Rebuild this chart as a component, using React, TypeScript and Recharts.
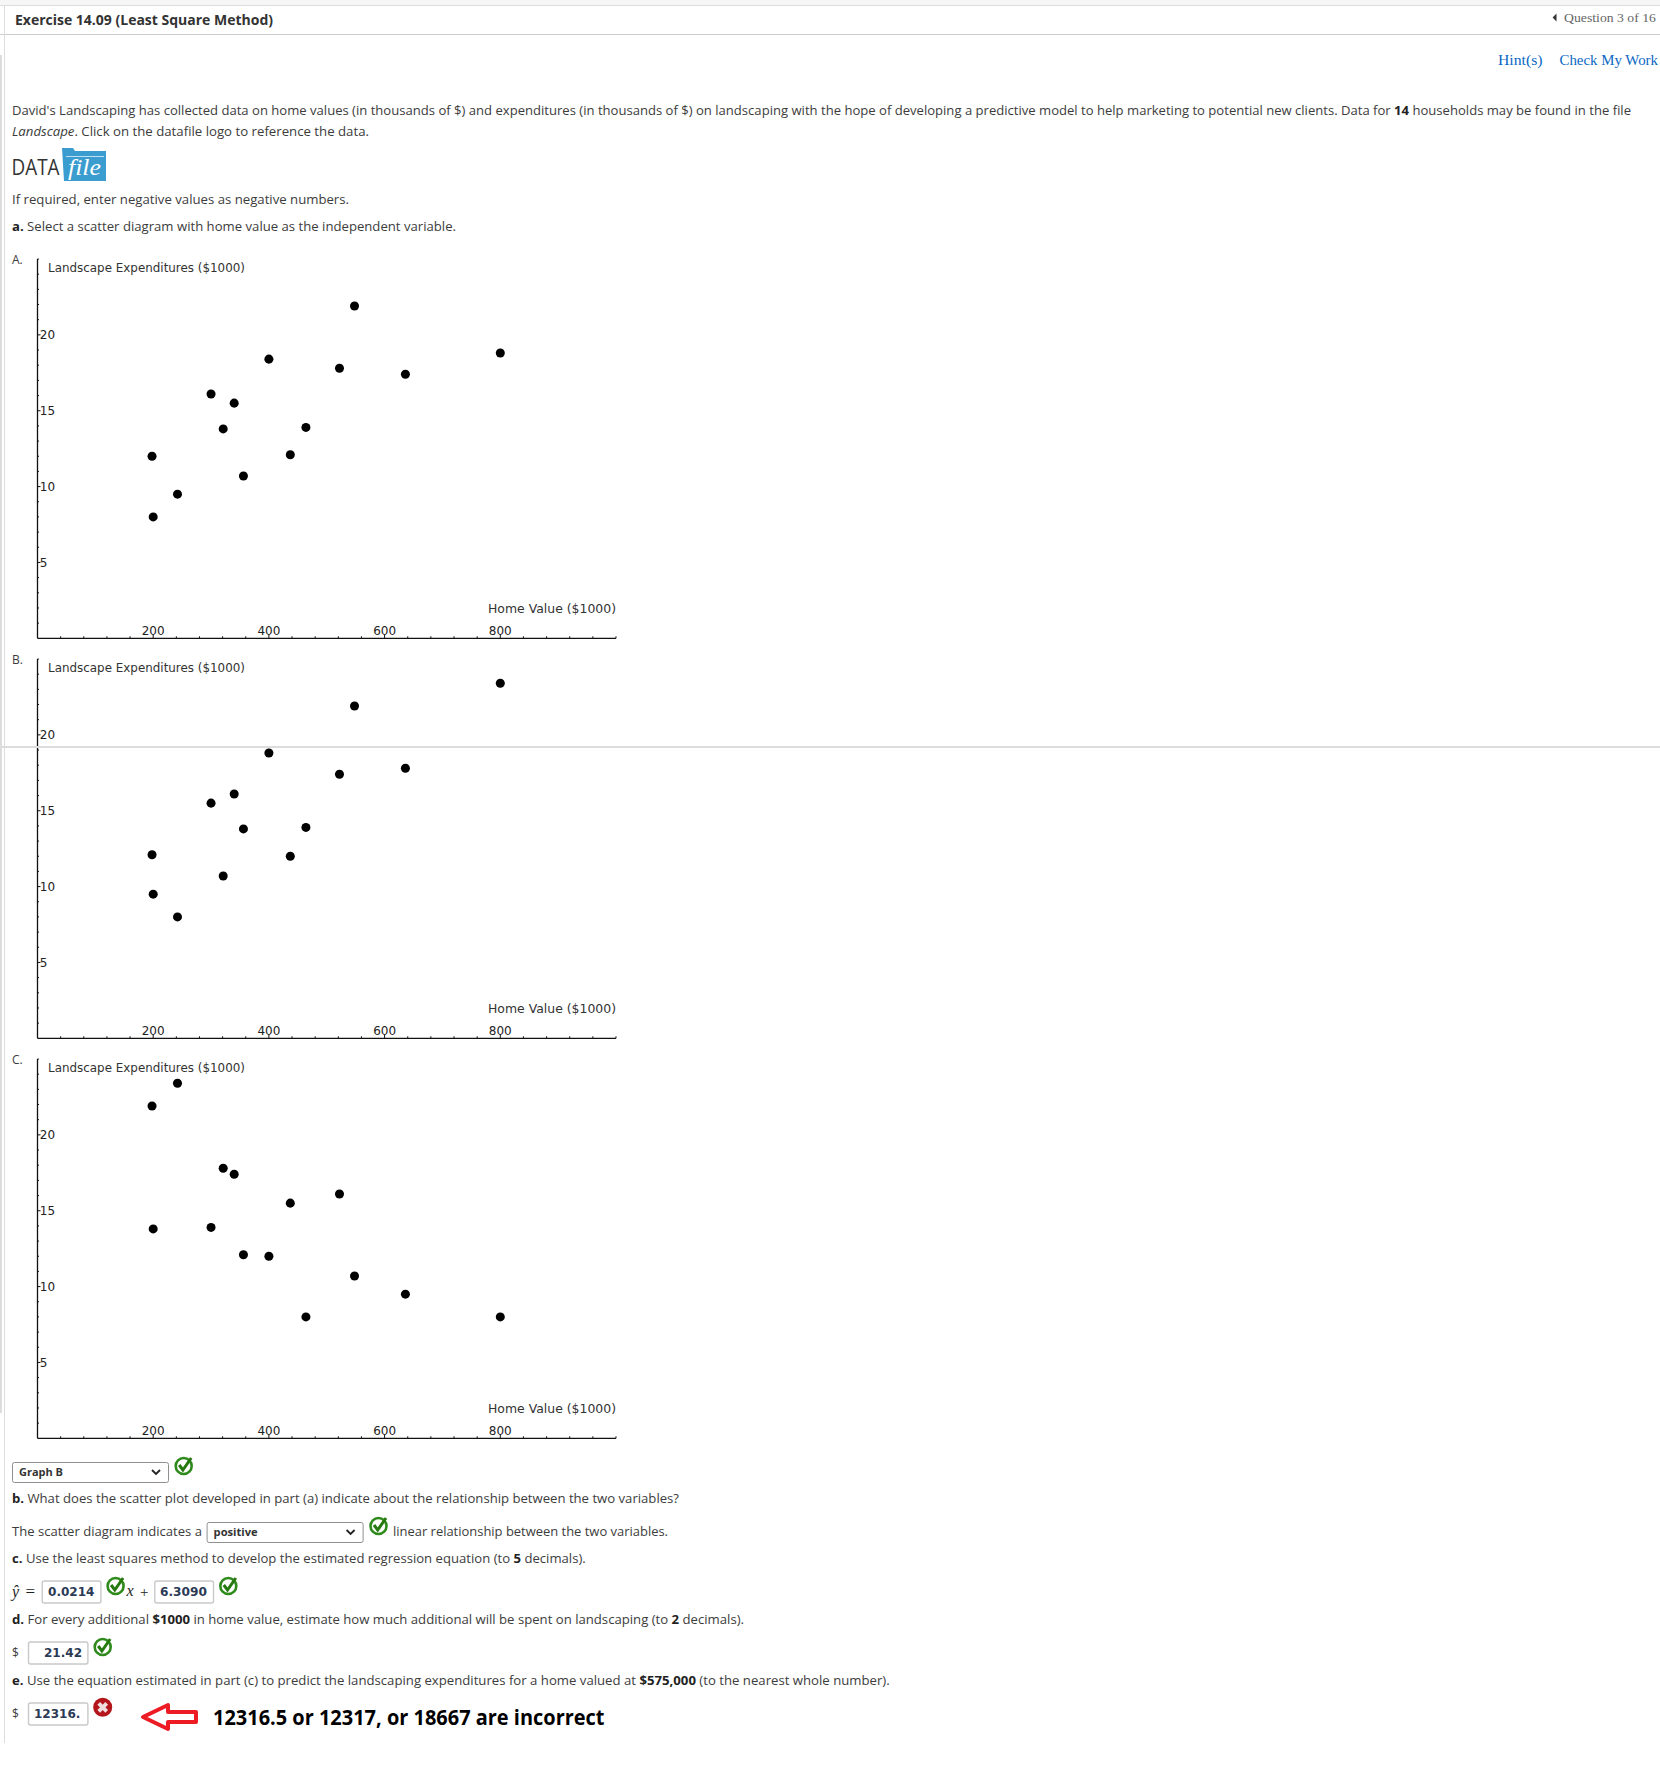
import React from 'react';
import { Scatter, ScatterChart, XAxis, YAxis, ZAxis } from 'recharts';

const homeValues = [198, 200, 242, 300, 321, 340, 356, 400, 437, 464, 522, 548, 636, 800];
const expendituresA = [12.0, 8.0, 9.5, 16.1, 13.8, 15.5, 10.7, 18.4, 12.1, 13.9, 17.8, 21.9, 17.4, 18.8];
const expendituresB = [12.1, 9.5, 8.0, 15.5, 10.7, 16.1, 13.8, 18.8, 12.0, 13.9, 17.4, 21.9, 17.8, 23.4];
const expendituresC = [21.9, 13.8, 23.4, 13.9, 17.8, 17.4, 12.1, 12.0, 15.5, 8.0, 16.1, 10.7, 9.5, 8.0];

const xTicks = [40, 80, 120, 160, 200, 240, 280, 320, 360, 400, 440, 480, 520, 560, 600, 640, 680, 720, 760, 800, 840, 880, 920, 960, 1000];
const yTicks = [1, 2, 3, 4, 5, 6, 7, 8, 9, 10, 11, 12, 13, 14, 15, 16, 17, 18, 19, 20, 21, 22, 23, 24, 25];
const xLabelled = [200, 400, 600, 800];
const yLabelled = [5, 10, 15, 20];

const sans = '"Open Sans", sans-serif';
const plot = 'DejaVu Sans, sans-serif';
const serif = '"Liberation Serif", serif';
const fieldFont = '"DejaVu Sans", sans-serif';

function XTick({ x, y, payload }: any) {
  const major = xLabelled.includes(payload.value);
  return (
    <g>
      <line x1={x} x2={x} y1={y} y2={y - (major ? 4 : 2)} stroke="#111" strokeWidth={1} />
      {major && (
        <text x={x} y={y - 7.5} textAnchor="middle" dominantBaseline="central" fontFamily={plot} fontSize={12} fill="#222">
          {payload.value}
        </text>
      )}
    </g>
  );
}

function YTick({ x, y, payload }: any) {
  const major = yLabelled.includes(payload.value);
  return (
    <g>
      <line x1={x} x2={x + (major ? 3 : 1.5)} y1={y} y2={y} stroke="#111" strokeWidth={1} />
      {major && (
        <text x={x + 2.3} y={y + 0.5} textAnchor="start" dominantBaseline="central" fontFamily={plot} fontSize={12} fill="#222">
          {payload.value}
        </text>
      )}
    </g>
  );
}

function Plot({ top, values }: { top: number; values: number[] }) {
  const rows = homeValues.map((home, i) => ({ home, spend: values[i] }));
  return (
    <div style={{ position: 'absolute', left: 0, top, width: 640, height: 400 }}>
      <ScatterChart width={640} height={400} margin={{ top: 9, left: 36.5, right: 24, bottom: 10.7 }}>
        <XAxis
          type="number"
          dataKey="home"
          domain={[0, 1000]}
          ticks={xTicks}
          interval={0}
          height={1}
          tickSize={0}
          tickMargin={0}
          tick={<XTick />}
          axisLine={{ stroke: '#111', strokeWidth: 1.3 }}
        />
        <YAxis
          type="number"
          dataKey="spend"
          domain={[0, 25]}
          ticks={yTicks}
          interval={0}
          width={1}
          tickSize={0}
          tickMargin={0}
          tick={<YTick />}
          axisLine={{ stroke: '#111', strokeWidth: 1.3 }}
        />
        <ZAxis range={[34, 34]} />
        <Scatter data={rows} fill="#000" isAnimationActive={false} />
        <text x={48} y={17.7} dominantBaseline="central" fontFamily={plot} fontSize={12} fill="#333" textLength={197} lengthAdjust="spacingAndGlyphs">
          Landscape Expenditures ($1000)
        </text>
        <text x={488} y={358.7} dominantBaseline="central" fontFamily={plot} fontSize={12} fill="#333" textLength={128} lengthAdjust="spacingAndGlyphs">
          Home Value ($1000)
        </text>
      </ScatterChart>
    </div>
  );
}

function T({ x, cy, w, size = 13, font = sans, weight, italic, color = '#3c3c3c', anchor, children }: any) {
  return (
    <text
      x={x}
      y={cy}
      dominantBaseline="central"
      fontFamily={font}
      fontSize={size}
      fontWeight={weight}
      fontStyle={italic ? 'italic' : undefined}
      fill={color}
      textAnchor={anchor}
      textLength={w}
      lengthAdjust={w ? 'spacingAndGlyphs' : undefined}
    >
      {children}
    </text>
  );
}

function Check({ cx, cy }: { cx: number; cy: number }) {
  return (
    <g>
      <circle cx={cx} cy={cy} r={8} fill="#fff" stroke="#2f8a1c" strokeWidth={2.6} />
      <path d={`M${cx - 4.5} ${cy - 1} L${cx - 0.8} ${cy + 4} L${cx + 7.5} ${cy - 8}`} fill="none" stroke="#25790f" strokeWidth={3} />
    </g>
  );
}

function Cross({ cx, cy }: { cx: number; cy: number }) {
  return (
    <g>
      <circle cx={cx} cy={cy} r={9.5} fill="#b3151b" />
      <path d={`M${cx - 4} ${cy - 4} L${cx + 4} ${cy + 4} M${cx + 4} ${cy - 4} L${cx - 4} ${cy + 4}`} stroke="#f0dede" strokeWidth={3.8} />
    </g>
  );
}

function Select({ x, y, w, h, label, labelW }: any) {
  const cx = x + w - 12;
  const cy = y + h / 2;
  return (
    <g>
      <rect x={x + 0.5} y={y + 0.5} width={w} height={h} rx={2} fill="#fff" stroke="#8f8f8f" />
      <T x={x + 7} cy={cy} w={labelW} size={10} weight={700} color="#333">{label}</T>
      <path d={`M${cx - 4} ${cy - 2} L${cx} ${cy + 2} L${cx + 4} ${cy - 2}`} fill="none" stroke="#222" strokeWidth={1.8} />
    </g>
  );
}

function Field({ x, y, w, tx, tw, children }: any) {
  return (
    <g>
      <rect x={x + 0.5} y={y + 1} width={w} height={22} rx={2} fill="#fff" stroke="#c9c9c9" strokeWidth={1.4} />
      <T x={tx} cy={y + 11.5} w={tw} size={12} font={fieldFont} weight={700} color="#2b3a55">{children}</T>
    </g>
  );
}

export default function App() {
  return (
    <div style={{ position: 'absolute', left: 0, top: 0, width: 1660, height: 1768, background: '#fff', overflow: 'hidden' }}>
      <svg width={1660} height={1768} style={{ position: 'absolute', left: 0, top: 0 }}>
        <rect x={0} y={0} width={1660} height={5} fill="#f6f6f6" />
        <rect x={0} y={5} width={1660} height={1} fill="#ddd" />
        <rect x={0} y={34} width={1660} height={1} fill="#ccc" />
        <rect x={4} y={5} width={1} height={1738} fill="#ddd" />
        <rect x={0} y={55} width={2} height={1358} fill="#ddd" />

        <T x={15} cy={19} w={258} size={14} weight={700} color="#333">Exercise 14.09 (Least Square Method)</T>
        <path d="M1552.6 17.5 L1556.5 13.5 L1556.5 21.5 Z" fill="#333" />
        <T x={1564} cy={17} w={92} size={13} font={serif} color="#666">Question 3 of 16</T>
        <T x={1498} cy={60} w={44.6} size={15} font={serif} color="#0b68c4">Hint(s)</T>
        <T x={1559.5} cy={60} w={98.5} size={15} font={serif} color="#0b68c4">Check My Work</T>

        <T x={12} cy={110} w={1619}>
          David's Landscaping has collected data on home values (in thousands of $) and expenditures (in thousands of $) on landscaping with the hope of developing a predictive model to help marketing to potential new clients. Data for <tspan fontWeight={700} fill="#222">14</tspan> households may be found in the file
        </T>
        <T x={12} cy={131} w={357}>
          <tspan fontStyle="italic">Landscape</tspan>. Click on the datafile logo to reference the data.
        </T>

        <T x={11.5} cy={166} w={48} size={22} color="#333">DATA</T>
        <path d="M62 148 L73 148 L75 151 L106 151 L106 181 L64 181 Z" fill="#3a9ccf" />
        <rect x={66} y={156} width={38} height={1} fill="#bfe0f2" />
        <T x={68} cy={167} w={33} size={23} font={serif} italic color="#fff">file</T>

        <T x={12} cy={199} w={337}>If required, enter negative values as negative numbers.</T>
        <T x={12} cy={226} w={444}><tspan fontWeight={700} fill="#222">a.</tspan> Select a scatter diagram with home value as the independent variable.</T>

        <T x={12} cy={259} size={12}>A.</T>
        <T x={12} cy={659} size={12}>B.</T>
        <T x={12} cy={1059} size={12}>C.</T>

        <Select x={12} y={1462} w={156} h={20} label="Graph B" labelW={44} />
        <Check cx={183.7} cy={1466} />
        <T x={12} cy={1498} w={667}><tspan fontWeight={700} fill="#222">b.</tspan> What does the scatter plot developed in part (a) indicate about the relationship between the two variables?</T>
        <T x={12} cy={1531} w={190}>The scatter diagram indicates a</T>
        <Select x={206.6} y={1522} w={156} h={20} label="positive" labelW={44} />
        <Check cx={378.5} cy={1526} />
        <T x={393} cy={1531} w={275}>linear relationship between the two variables.</T>
        <T x={12} cy={1558} w={573.7}><tspan fontWeight={700} fill="#222">c.</tspan> Use the least squares method to develop the estimated regression equation (to <tspan fontWeight={700} fill="#222">5</tspan> decimals).</T>

        <T x={12} cy={1591} size={16} font={serif} italic color="#222">ŷ</T>
        <T x={25.5} cy={1591} size={17} font={serif} color="#222">=</T>
        <Field x={41.7} y={1580} w={58.7} tx={48} tw={46.5}>0.0214</Field>
        <Check cx={115.6} cy={1586} />
        <T x={126.5} cy={1590.5} size={16} font={serif} italic color="#222">x</T>
        <T x={140} cy={1591.5} size={15} font={serif} color="#222">+</T>
        <Field x={154.3} y={1580} w={58.7} tx={160} tw={47}>6.3090</Field>
        <Check cx={228.3} cy={1586} />

        <T x={12} cy={1619} w={732}><tspan fontWeight={700} fill="#222">d.</tspan> For every additional <tspan fontWeight={700} fill="#222">$1000</tspan> in home value, estimate how much additional will be spent on landscaping (to <tspan fontWeight={700} fill="#222">2</tspan> decimals).</T>
        <T x={12} cy={1652.7} size={12}>$</T>
        <Field x={28} y={1641} w={59.4} tx={44} tw={38}>21.42</Field>
        <Check cx={102.7} cy={1647} />

        <T x={12} cy={1680} w={877.7}><tspan fontWeight={700} fill="#222">e.</tspan> Use the equation estimated in part (c) to predict the landscaping expenditures for a home valued at <tspan fontWeight={700} fill="#222">$575,000</tspan> (to the nearest whole number).</T>
        <T x={12} cy={1713.7} size={12}>$</T>
        <Field x={28} y={1702} w={59.4} tx={34} tw={46.4}>12316.</Field>
        <Cross cx={102.7} cy={1707.3} />
        <path d="M143 1717 L168 1705 L168 1712 L196 1712 L196 1722 L168 1722 L168 1729 Z" fill="#fff" stroke="#ed1c24" strokeWidth={4} strokeLinejoin="round" />
        <T x={213} cy={1716.7} w={391.5} size={21} weight={700} color="#000">12316.5 or 12317, or 18667 are incorrect</T>
      </svg>

      <Plot top={250} values={expendituresA} />
      <Plot top={650} values={expendituresB} />
      <Plot top={1050} values={expendituresC} />

      <div style={{ position: 'absolute', left: 0, top: 746, width: 1660, height: 1.5, background: '#dcdcdc' }} />
    </div>
  );
}
